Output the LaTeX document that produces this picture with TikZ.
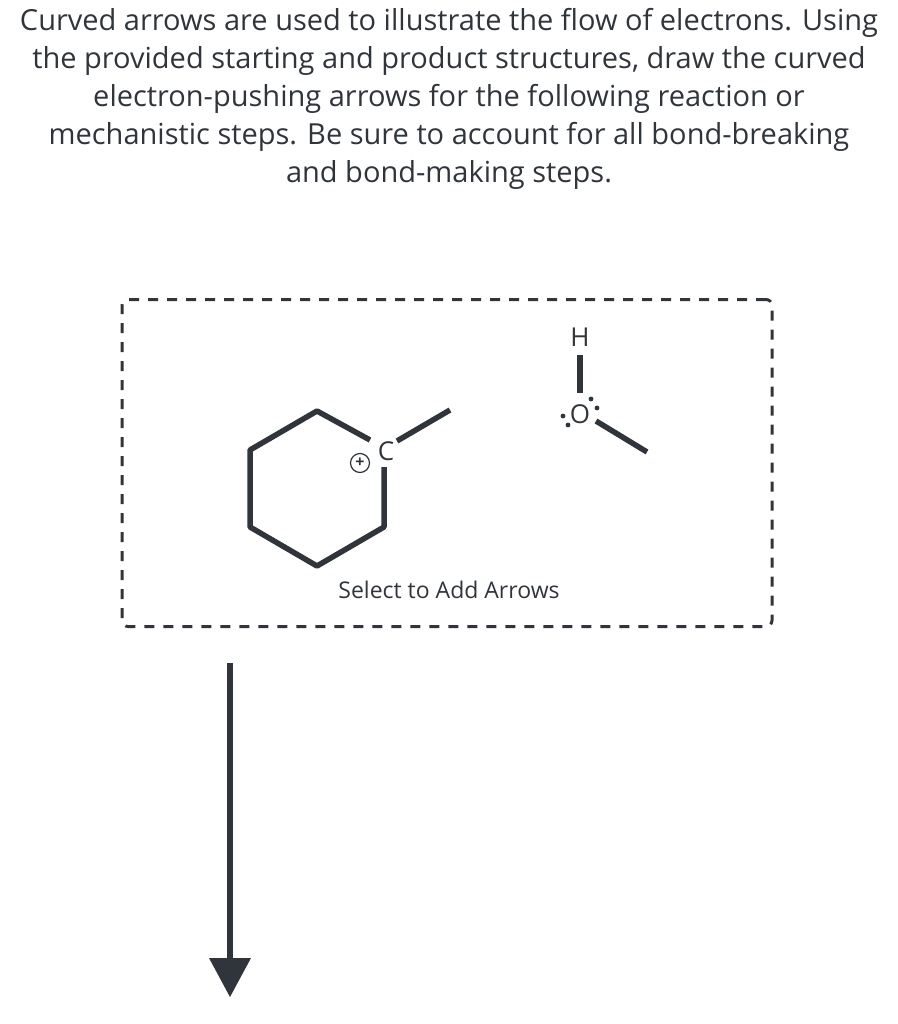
\documentclass[tikz,border=0pt]{standalone}
\usepackage{fontspec}
\setmainfont{Open Sans}
\definecolor{ink}{HTML}{30353B}
\begin{document}
\begin{tikzpicture}[x=1pt,y=-1pt,
  bond/.style={line width=5.5pt,draw=ink},
  atom/.style={text=ink,font=\fontsize{26}{28}\selectfont,inner sep=1pt},
  head/.style={font=\fontsize{29}{38}\selectfont,text=ink,align=center}]
\useasboundingbox (0,0) rectangle (897,1024);
\node[head,anchor=north] (title) at (449,5) {Curved arrows are used to illustrate the flow of electrons. Using\\the provided starting and product structures, draw the curved\\electron-pushing arrows for the following reaction or\\mechanistic steps. Be sure to account for all bond-breaking\\and bond-making steps.};
\node[draw=ink,dashed,line width=3pt,dash pattern=on 10pt off 9pt,rounded corners=6pt,minimum width=650pt,minimum height=327pt] (box) at (447,463) {};
% cyclohexane
\node[atom] (C) at (386,451) {C};
\coordinate (cin) at (370,440);
\coordinate (cdn) at (384,467);
\coordinate (cout) at (397,441);
\coordinate (a) at (317,411);
\coordinate (c) at (384,527);
\coordinate (d) at (317,566);
\coordinate (e) at (250,527);
\coordinate (f) at (250,450);
\coordinate (me) at (450,410);
\draw[bond,line join=round] (cin) -- (a) -- (f) -- (e) -- (d) -- (c) -- (cdn);
\draw[bond] (cout) -- (me);
\node[draw=ink,circle,line width=1.2pt,inner sep=0pt,minimum size=19pt,font=\fontsize{16}{16}\selectfont\bfseries,text=ink] (plus) at (360,463) {+};
% methanol
\node[atom] (O) at (580,414) {O};
\node[atom] (H) at (580,337) {H};
\coordinate (oh1) at (580,355);
\coordinate (oh2) at (580,393);
\coordinate (om) at (596,421);
\coordinate (me2) at (647,452);
\draw[bond] (oh1) -- (oh2);
\draw[bond] (om) -- (me2);
\foreach \p in {(563,416),(568,425),(591,399),(597,408)} \fill[ink] \p circle (2.4pt);
\node[font=\fontsize{23}{26}\selectfont,text=ink] (lbl) at (449,590) {Select to Add Arrows};
% arrow
\coordinate (s) at (230,663);
\coordinate (t) at (230,997);
\draw[line width=6pt,draw=ink] (s) -- (230,962);
\fill[ink] (209,958) -- (251,958) -- (t) -- cycle;
\end{tikzpicture}
\end{document}
